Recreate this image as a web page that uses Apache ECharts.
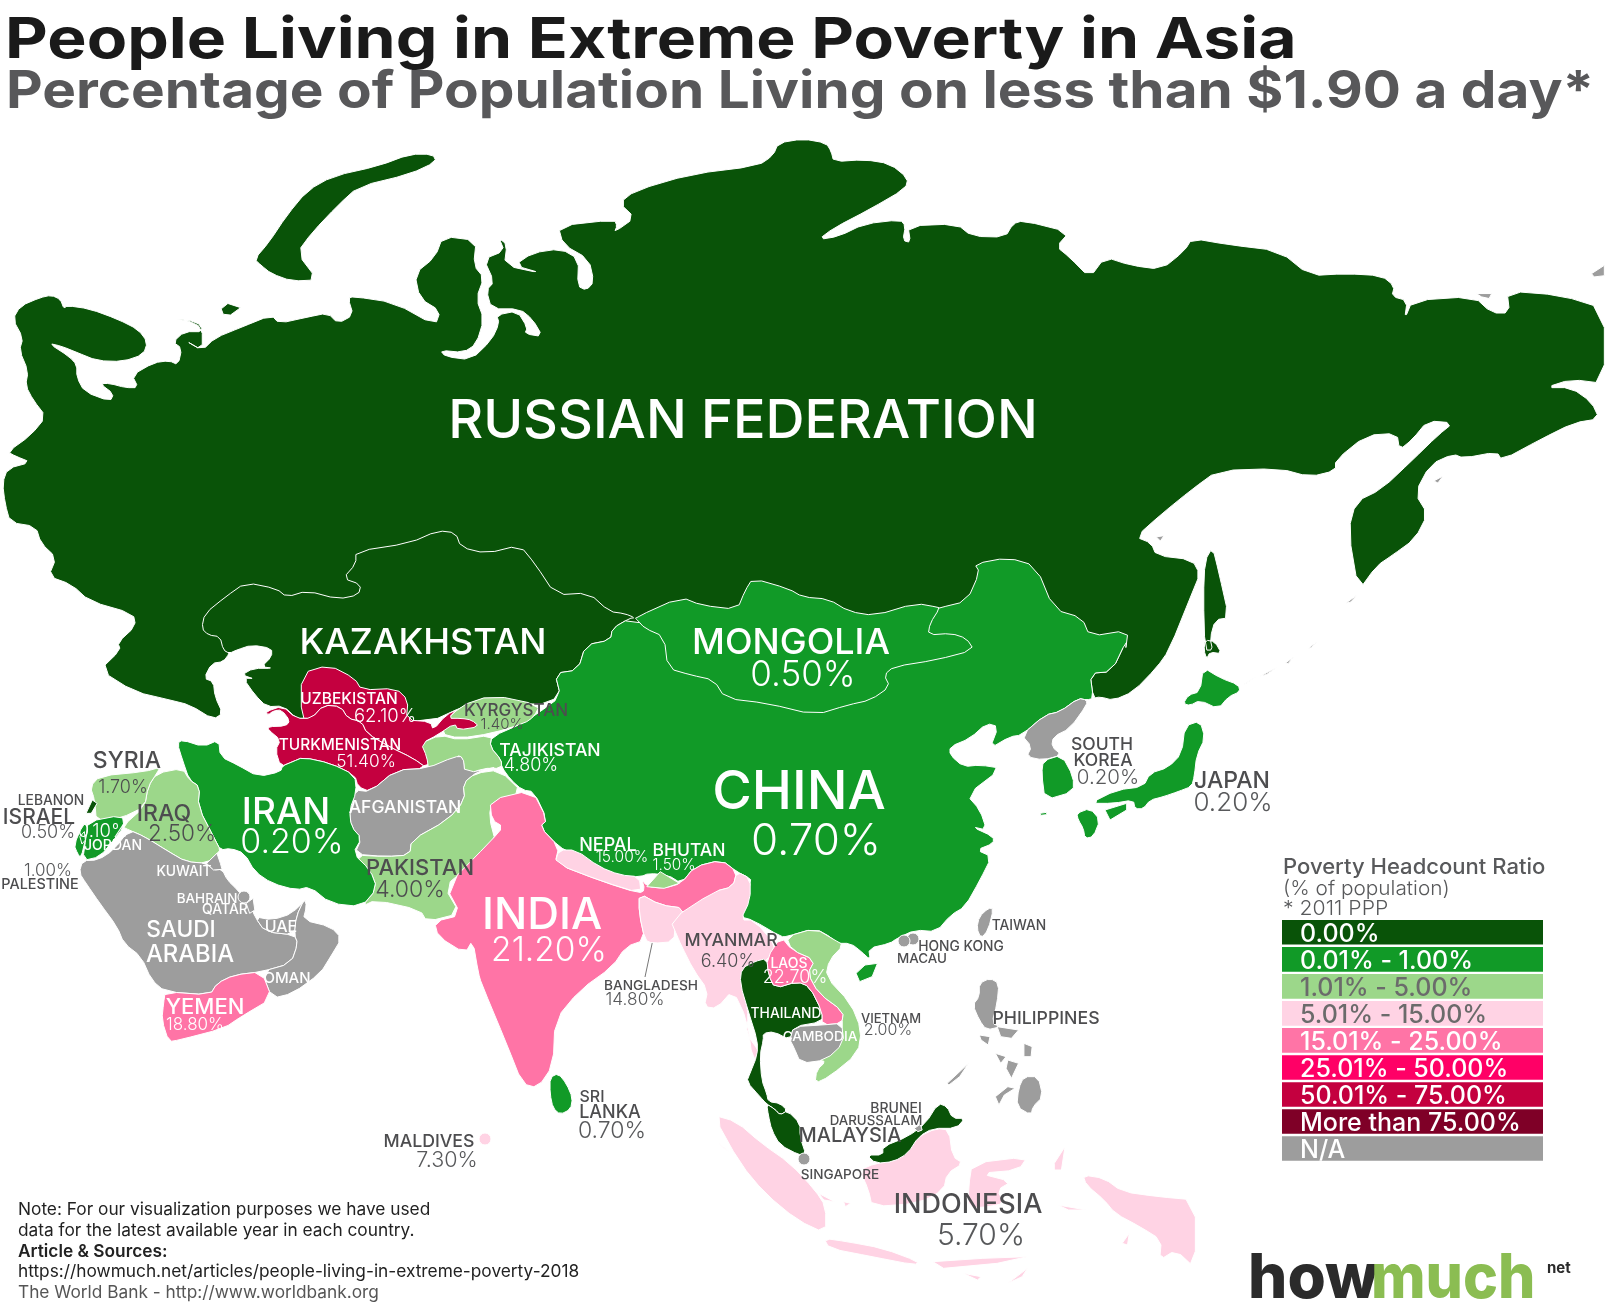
<!DOCTYPE html>
<html>
<head>
<meta charset="utf-8">
<title>People Living in Extreme Poverty in Asia</title>
<style>
html,body{margin:0;padding:0;background:#fff}
#chart{width:1606px;height:1307px}
</style>
<script src="https://cdn.jsdelivr.net/npm/echarts@6/dist/echarts.min.js"></script>
</head>
<body>
<div id="chart"></div>
<script>
// poverty headcount ratio
var countries = ['Russia','Kazakhstan','Lebanon','Thailand','Malaysia','Malaysia Borneo','Jordan','Iran','Japan','South Korea','Israel','Mongolia','China','Sri Lanka','Palestine','Kyrgyzstan','Bhutan','Syria','Vietnam','Iraq','Pakistan','Tajikistan','Indonesia','Myanmar','Maldives','Bangladesh','Nepal','Yemen','India','Laos','Turkmenistan','Uzbekistan'];
var poverty = [0,0,0,0,0,0,0.1,0.2,0.2,0.2,0.5,0.5,0.7,0.7,1.0,1.4,1.5,1.7,2.0,2.5,4.0,4.8,5.7,6.4,7.3,14.8,15.0,18.8,21.2,22.7,51.4,62.1];
var binLabels = ['0.00%','0.01% - 1.00%','1.01% - 5.00%','5.01% - 15.00%','15.01% - 25.00%','25.01% - 50.00%','50.01% - 75.00%','More than 75.00%','N/A'];
var binTops = [0,1,5,15,25,50,75,100];
var binColors = ['#095308','#119A27','#9CD78A','#FFD3E4','#FF74A6','#FF0066','#C4003F','#7F0027','#9D9D9D'];
var binTextColors = ['#fff','#fff','#6b6b6b','#6b6b6b','#fff','#fff','#fff','#fff','#fff'];
var titleText = 'People Living in Extreme Poverty in Asia';
var subtitleText = 'Percentage of Population Living on less than $1.90 a day*';
var noteLines = ['Note: For our visualization purposes we have used','data for the latest available year in each country.','Article & Sources:','https://howmuch.net/articles/people-living-in-extreme-poverty-2018','The World Bank - http://www.worldbank.org'];

function crop(x0,y0,kx,ky){
  return function(){
    var out=[];
    for(var i=0;i<arguments.length;i+=2) out.push([x0+arguments[i]/kx,y0+arguments[i+1]/ky]);
    return out;
  };
}
var nw=crop(0,0,1.953,2.412), ne=crop(803,0,1.953,2.412), me=crop(0,650,2.904,3), si=crop(400,600,2.613,3),
    se=crop(640,880,2.8,3), jp=crop(1100,640,3,2.904), kr=crop(930,640,3,3), ov=crop(0,0,0.9763,0.9763),
    cz=crop(170,600,3,3), ml=crop(700,1040,3,3);

var shapes = {
  Other:[
    ne(1540,660,1565,640,1565,665,1545,668), ne(1315,708,1345,708,1340,720,1325,716),
    ne(1232,1160,1250,1148,1240,1165), ne(1060,1455,1082,1435,1070,1452), ne(690,1295,705,1292,698,1305),
    jp(430,130,470,105,440,125), jp(480,105,530,80,500,100), jp(555,68,580,50,565,68), jp(625,25,650,5,635,22)
  ],
  Russia:[
    nw(25,770,40,738,78,718,100,712,118,722,125,745,130,737,175,745,230,770,270,795,288,825,280,855,240,872,190,870,150,850,120,835,95,828,135,860,150,880,150,910,165,945,215,968,222,950,195,925,215,925,245,935,270,935,258,905,300,875,330,870,348,880,355,840,338,825,360,800,398,800,385,775,335,770,365,772,395,790,395,845,360,820,395,845,420,815,470,790,530,760,545,780,600,765,640,755,660,780,690,760,680,720,690,715,770,730,850,785,860,750,820,720,810,660,850,620,865,570,930,580,925,640,945,670,930,720,945,770,930,830,905,850,860,845,870,860,920,868,960,820,975,780,970,760,1010,750,1030,790,1025,805,1060,812,1040,770,1015,745,960,745,950,700,965,680,945,625,985,605,975,575,990,590,985,640,1060,660,1005,640,1040,610,1095,600,1130,625,1128,690,1145,700,1160,680,1150,625,1100,590,1090,545,1200,530,1205,545,1200,560,1240,525,1210,490,1240,460,1350,420,1480,400,1510,375,1520,345,1568,335)
    .concat(ne(45,345,55,365,60,390,120,385,170,395,205,430,200,455,130,505,60,550,30,578,70,570,120,540,190,530,200,545,195,580,210,585,205,545,300,540,330,570,395,572,410,540,430,532,520,560,495,595,520,620,560,670,590,620,640,640,700,650,745,605,760,575,830,590,930,605,990,665,1060,660,1130,665,1155,690,1150,715,1180,725,1175,770,1190,725,1310,715,1345,755,1380,755,1375,702,1480,712,1565,745,1565,925,1500,915,1450,935,1500,935,1540,970,1555,1010,1505,1020,1440,1060,1365,1110,1355,1090,1290,1105,1270,1095,1225,1120,1195,1190,1220,1240,1195,1300,1150,1340,1120,1365,1085,1425,1065,1280,1080,1210,1130,1180,1190,1110,1240,1050,1270,1020,1220,1015,1190,1060,1165,1085,1160,1045,1100,1050,1040,1110,1040,1135,990,1150,930,1130,810,1135,760,1180,700,1240,650,1295,680,1310,690,1340,760,1350,775,1385,760,1430,715,1568))
    .concat(jp(170,80,100,150,40,175,0,165))
    .concat(kr(490,175,480,100,545,95,590,0))
    .concat(si(1000,100,600,100,400,200))
    .concat(cz(200,100,178,160,160,185,125,190,102,235,130,245,135,290,158,340,130,358,60,315,0,300),me(390,125,290,60,350,0))
    .concat(nw(230,1550,265,1510,260,1480,175,1450,140,1410,95,1390,110,1345,80,1310,70,1270,20,1260,10,1215,5,1165,15,1130,60,1115,30,1100,15,1090,60,1050,90,1005,65,965,50,930,55,895,38,845,45,815)),
    nw(497,625,525,585,560,520,600,460,650,425,740,400,800,372,845,372,852,390,800,420,700,450,660,495,610,560,580,610,620,675,570,678,530,660,510,640),
    nw(432,745,445,732,470,742,450,760,436,758),
    ne(785,1352,800,1320,812,1380,832,1490,805,1495,795,1540,800,1568,785,1568,782,1440),
    jp(315,0,345,5,365,40,330,35,320,55,312,30)
  ],
  Kazakhstan:[
    nw(400,1480,440,1440,480,1405,540,1420,560,1440,600,1425,660,1445,700,1435,705,1410,670,1395,695,1360,695,1330,800,1310,855,1280,890,1285,900,1320,950,1335,1015,1315,1045,1360,1085,1435,1150,1430,1190,1475,1220,1480,1240,1490)
    .concat(si(600,55,555,85,550,120,485,135,465,210,405,220,420,290,350,320,240,285,155,325))
    .concat(me(1250,215,1100,205,875,205))
    .concat(cz(395,355,380,355,340,318,290,320,255,285,220,235,255,235,215,225,250,205,310,205,275,200,305,170,305,145,245,135,200,150,178,160,160,150,150,110,115,105,95,85))
  ],
  China:[
    si(600,55,1000,150,1408,24)
    .concat(ne(320,1450,345,1380,335,1360,400,1345,455,1365,490,1470,545,1490,560,1535,635,1520,630,1568))
    .concat(kr(590,0,545,95,480,100,490,175,470,180,445,175,390,215,345,225,275,285,240,290,180,325,205,260,170,250,120,295,60,320,60,345,100,380,150,375,215,385,110,465,150,510,170,570,125,560,190,590,190,610,140,630,185,650,150,720,105,800))
    .concat(se(870,105,830,155,770,150,720,175,700,190,640,205,645,240,620,215,590,190,545,190,540,175,490,145,410,170,395,170,315,120,280,110,300,60,310,0))
    .concat(si(915,835,880,815,840,780,770,800,735,850,700,825,650,820,630,830,575,830,500,790,450,760,415,740,365,680,385,660,350,575,320,570,290,540,265,500,265,480,235,440,240,410,320,370,360,340,420,290,405,220,465,210,485,135,550,120,555,85)),
    se(605,280,630,255,665,250,650,290,615,305)
  ],
  Mongolia:[
    nw(1240,1490,1330,1440,1370,1460,1440,1470,1455,1425,1470,1395,1540,1420,1568,1440)
    .concat(ne(50,1445,90,1475,140,1485,220,1455,265,1465))
    .concat(si(1410,25,1385,70,1380,105,1440,100,1480,115,1500,150,1400,180,1290,200,1265,225,1280,260,1230,300,1170,315,1085,345,960,310,850,295,820,240,760,225,700,205,690,110,640,85,620,60))
  ],
  Kyrgyzstan:[me(1225,275,1260,255,1330,170,1430,135,1568,165)
    .concat(si(350,350,325,370,240,400,155,415,105,400,130,345,155,325))],
  Uzbekistan:[me(875,205,875,70,955,45,1030,85,1050,120,1150,115,1185,150,1180,210,1250,215,1258,240,1295,195,1335,175,1300,205,1340,205,1370,210,1392,230,1330,240,1320,220,1270,255,1228,278,1250,310,1240,355,1200,325,1130,290,1065,250,1050,215,1010,205,990,170,940,165,905,205)],
  Turkmenistan:[me(815,350,800,300,815,270,780,240,778,230,830,228,842,212,818,180,795,182,778,195,772,185,820,168,860,205,905,205,940,165,990,170,1010,205,1050,215,1065,250,1130,290,1200,325,1240,355,1150,360,1075,425,1040,410,1030,375,960,340,880,322,850,335)],
  Tajikistan:[si(55,430,105,405,155,420,240,405,235,440,265,480,265,505,215,505,170,530,165,475,150,465,135,500,75,510,70,470)],
  Afghanistan:[me(1030,420,1075,425,1150,360,1240,355,1320,320,1345,320,1350,370,1450,350,1390,362,1345,400,1350,450,1300,510,1195,570,1190,615,1120,620,1030,612,1050,565,1020,530,1015,480)],
  Pakistan:[me(1030,615,1120,620,1190,615,1195,570,1300,510,1350,450,1345,400,1380,370,1450,360,1520,430,1430,450,1420,500,1440,580,1360,650,1290,710,1335,790,1240,815,1220,780,1090,750,1050,770,1095,715,1075,660)],
  Iran:[me(515,280,530,270,590,290,635,270,640,320,690,345,750,380,815,365,820,348,850,335,880,322,960,340,1030,375,1035,425,1015,480,1020,530,1050,565,1025,610,1075,660,1095,715,1050,770,960,760,900,710,860,720,790,700,740,665,710,610,670,595,640,600,625,570,575,470,580,410,550,390,530,330)],
  Iraq:[me(355,530,420,470,430,410,455,370,530,355,550,390,580,410,575,470,625,570,640,600,630,610,600,640,540,635,490,605,420,560,375,540)],
  Syria:[me(262,410,290,378,420,365,465,352,455,370,430,410,420,470,350,505,280,515,275,450)],
  Saudi:[me(230,668,240,632,285,630,330,600,375,540,420,560,490,605,540,635,600,640,620,660,645,658,660,690,690,720,730,770,740,800,770,845,855,855,865,880,845,940,760,965,680,975,630,1000,610,1035,480,1025,440,990,410,920,360,880,340,830,290,760,250,700)],
  Kuwait:[me(600,640,630,610,640,640,645,658,620,660)],
  Qatar:[me(715,760,735,745,740,780,725,790)],
  UAE:[me(740,800,770,845,855,855,860,800,885,745,850,790,790,810)],
  Oman:[me(885,745,890,770,880,810,960,830,992,865,960,920,930,970,850,1030,790,1045,760,965,845,940,865,880,855,855,860,800)],
  Yemen:[me(480,1025,610,1035,630,1000,680,975,760,965,790,1045,700,1100,650,1135,520,1170,490,1175,470,1110,475,1060)],
  Jordan:[me(255,515,355,495,360,530,330,570,290,620,240,632,250,560)],
  Israel:[me(215,585,240,525,255,520,250,560,235,625,225,610)],
  Palestine:[me(232,560,245,545,248,570,238,582)],
  Lebanon:[me(250,490,268,450,282,460,265,490)],
  India:[si(345,570,385,660,365,680,415,740,405,790,530,845,625,880,640,870,630,830,645,860,690,865,735,850,770,800,840,780,880,815,870,860,820,875,810,930,770,960,765,1000,740,965,720,970,745,925,680,915,625,880,625,940,640,1020,590,1040,555,1100,470,1170,405,1260)
    .concat(ov(540,1040,525,1062,510,1058,495,1020,470,960))
    .concat(si(205,1120,190,1020,170,1060,100,1010,90,965,160,945,120,860,240,720,270,680,240,660,235,600))],
  Nepal:[si(415,750,460,750,520,800,575,825,625,830,630,880,530,845,405,790)],
  Bhutan:[si(645,860,680,815,730,850,690,865)],
  Bangladesh:[si(625,880,680,915,745,925,720,970,715,1025,660,1030,640,1020,625,940)],
  Myanmar:[si(880,815,915,835,915,900,890,960,925,960,985,1040,965,1075,925,1100,890,1130,905,1210,910,1250,905,1300,935,1350)
    .concat(se(335,520,315,540,300,420,260,330,215,385,180,380,190,330,150,270,115,195,105,170,85,120))
    .concat(si(820,875,870,860))],
  'Sri Lanka':[ov(537,1052,545,1048,553,1058,559,1072,557,1083,547,1088,540,1082,537,1068)],
  Indonesia:[
    se(205,705,270,725,340,790,420,850,490,930,520,980,520,1060,440,1020,350,940,280,850),
    se(615,870,660,850,710,845,780,770,830,745,865,750,875,830,905,850,860,880,850,930,780,970,650,980,640,930),
    se(930,850,1085,830,1060,870,950,880,1040,905,1000,930,1020,970,975,980,920,985,920,920),
    se(515,1075,580,1085,680,1105,780,1145,770,1155,650,1130,530,1105),
    se(820,1145,960,1135,1085,1130,1000,1150,850,1165),
    se(1030,1210,1085,1165,1070,1190), se(905,1180,955,1190,945,1200),
    se(1240,885,1300,895,1350,935,1450,950,1555,960,1555,1165,1500,1110,1455,1140,1460,1080,1400,1040,1330,1000,1300,960,1250,915),
    se(1160,850,1190,800,1180,870,1160,870), se(1170,975,1250,990,1200,990), se(1350,1090,1370,1060,1365,1095),
    se(500,940,545,965,515,960), se(570,965,590,970,575,980), se(220,790,250,815,235,805)
  ],
  Thailand:[se(320,245,355,235,360,285,378,325,440,305,475,320,510,395,510,425,430,440,420,480,375,455,345,460)
    .concat(ml(190,0,180,45,185,120,200,160,205,185,240,190,262,212,240,225,225,208,200,192,180,170,140,125,150,100,172,45,172,0))
    .concat(se(305,400,280,310,285,265))],
  Laos:[se(395,170,425,210,490,240,470,280,500,340,570,395,565,430,510,435,510,395,475,320,440,305,378,325,360,285,355,235)],
  Vietnam:[se(410,170,490,145,545,180,570,195,530,240,520,290,590,370,620,450,610,520,530,590,490,610,495,570,520,545,500,540,570,490,565,430,570,395,500,340,470,280,490,240,425,210)],
  Cambodia:[se(430,440,510,435,565,430,570,490,520,540,450,550,430,500,420,480)],
  Malaysia:[ml(200,192,225,208,240,225,262,212,300,250,300,290,318,345,298,345,240,315,215,270,205,225)],
  'Malaysia Borneo':[se(635,825,680,825,680,800,750,770,800,730,835,670,860,680,875,715,910,715,885,745,820,745,780,770,750,820,710,845,660,850)],
  Brunei:[se(768,745,785,733,790,750,778,755)],
  Philippines:[
    se(950,310,980,295,1005,310,1000,370,985,430,1010,440,970,450,950,420,932,375,950,350),
    se(950,465,980,470,975,495,955,480), se(1000,440,1060,450,1040,475,1010,470), se(1075,490,1098,500,1095,530,1075,530),
    se(995,520,1025,530,1010,550), se(1030,540,1060,550,1040,595,1025,565),
    se(1075,590,1115,590,1128,650,1100,680,1095,705,1055,680,1060,625), se(995,650,1030,620,1050,625,1020,645,1005,675),
    se(860,610,920,550,895,590,865,615)
  ],
  Taiwan:[se(975,85,990,85,975,150,955,175,943,145,950,110)],
  'North Korea':[kr(470,180,445,175,390,215,345,225,275,285,305,320,290,350,340,360,395,345,365,320,370,290,420,265,470,195)],
  'South Korea':[kr(340,362,395,345,430,410,430,455,345,480,335,400), kr(330,520,350,517,350,524,332,526)],
  Japan:[
    jp(310,80,360,110,415,130,420,150,385,165,355,200,300,175,270,190,250,185,265,160,300,150),
    jp(255,250,300,235,315,285,290,335,283,395,275,425,235,440,190,455,150,465,130,490,105,490).concat(kr(610,480,550,490,480,490,560,450,640,440,660,400),jp(205,370,245,330)),
    kr(525,510,590,490,590,510,540,540),
    kr(440,520,480,505,510,540,490,590,465,595,460,565,445,540)
  ]
};

// one pass of corner cutting so the traced coast is not all straight cuts
function soften(r){
  if(r.length<6) return r;
  var out=[];
  r.forEach(function(p,i){
    var q=r[(i+1)%r.length];
    out.push([p[0]*0.75+q[0]*0.25,p[1]*0.75+q[1]*0.25],[p[0]*0.25+q[0]*0.75,p[1]*0.25+q[1]*0.75]);
  });
  return out;
}
var features = Object.keys(shapes).map(function(name){
  return {type:'Feature',properties:{name:name},geometry:{type:'MultiPolygon',coordinates:shapes[name].map(function(r){
    var s=soften(r);
    return [s.concat([s[0]])];
  })}};
});
echarts.registerMap('asia',{type:'FeatureCollection',features:features});

function pct(name){ return poverty[countries.indexOf(name)].toFixed(2)+'%'; }

var W='#fff', D='#4d4d4f', G='#58595b';
// text, centre x, centre y, size, weight, colour
var mapLabels = [
  ['RUSSIAN FEDERATION',743,418,54,500,W],['KAZAKHSTAN',423,640,36,500,W],
  ['MONGOLIA',791,640,36,500,W],[pct('Mongolia'),803,673,35,300,W],
  ['CHINA',799,789,54,500,W],[pct('China'),816,839,44,300,W],
  ['IRAN',286,810,37,500,W],[pct('Iran'),292,840,34,300,W],
  ['INDIA',542,913,44,500,W],[pct('India'),549,948,33.5,300,W],
  ['PAKISTAN',420,866,22,500,D],[pct('Pakistan'),410,888,23,300,D],
  ['AFGANISTAN',405,806,17.5,500,W],['IRAQ',164,812,23,500,D],[pct('Iraq'),182,832,22.5,300,D],
  ['SYRIA',127,759,23,500,D],[pct('Syria'),123,786,18,300,D],
  ['LEBANON',51,799,13.8,500,D],['ISRAEL',39,816,21,500,D],[pct('Israel'),48,831,18,300,G],
  [pct('Jordan'),103,830,18.5,300,W],['JORDAN',113,844,14,500,W],
  [pct('Palestine'),48,869,17,300,G],['PALESTINE',40,883,14.4,500,D],
  ['KUWAIT',184,870,13.8,500,W],['BAHRAIN',207,897,13.5,500,W],['QATAR',225,908,14,500,W],
  ['SAUDI',181,928,22.7,500,W],['ARABIA',190,953,23.8,500,W],['UAE',281,925,16,500,W],['OMAN',287,977,15,500,W],
  ['YEMEN',205,1005,22,500,W],[pct('Yemen'),195,1023,17,300,W],
  ['UZBEKISTAN',349,698,15.5,500,W],[pct('Uzbekistan'),385,715,18.5,300,W],
  ['TURKMENISTAN',340,744,15.4,500,W],[pct('Turkmenistan'),366,760,17.3,300,W],
  ['KYRGYSTAN',516,709,17,500,D],[pct('Kyrgyzstan'),502,723,15,300,D],
  ['TAJIKISTAN',550,749,17.6,500,W],[pct('Tajikistan'),531,764,18,300,W],
  ['NEPAL',608,844,18,500,W],[pct('Nepal'),622,856,15.5,300,W],
  ['BHUTAN',689,849,17.5,500,W],[pct('Bhutan'),674,864,15.3,300,W],
  ['BANGLADESH',651,984,13.7,500,D],[pct('Bangladesh'),635,998,17.3,300,G],
  ['MYANMAR',731,939,17.7,500,D],[pct('Myanmar'),728,960,18,300,D],
  ['LAOS',789,962,14,500,W],[pct('Laos'),795,976,18,300,W],
  ['THAILAND',786,1012,13.8,500,W],['CAMBODIA',820,1035,13.7,500,W],
  ['VIETNAM',891,1017,13,500,D],[pct('Vietnam'),888,1028,16,300,G],
  ['SOUTH',1102,743,17.5,500,D],['KOREA',1103,759,17.5,500,D],[pct('South Korea'),1108,776,20.5,300,G],
  ['JAPAN',1232,779,23,500,D],[pct('Japan'),1233,801,26,300,G],
  ['TAIWAN',1019,924,13.8,500,D],['HONG KONG',961,945,13.8,500,D],['MACAU',922,957,13.4,500,D],
  ['PHILIPPINES',1046,1017,17.7,500,D],['BRUNEI',896,1107,14,500,D],['DARUSSALAM',876,1119,13.3,500,D],
  ['MALAYSIA',850,1134,20,500,D],['SINGAPORE',840,1173,13.6,500,D],
  ['SRI',592,1095,16,500,D],['LANKA',610,1111,18,500,D],[pct('Sri Lanka'),612,1129,23,300,G],
  ['MALDIVES',429,1140,17.7,500,D],[pct('Maldives'),447,1158,21.5,300,G],
  ['INDONESIA',968,1203,27,500,D],[pct('Indonesia'),981,1233,30,300,G]
];
// places too small to draw as a shape: x, y, colour index into binColors
var smallPlaces = [
  {name:'Hong Kong',value:[913,939],c:8},{name:'Macau',value:[904,941],c:8},{name:'Singapore',value:[804,1159],c:8},
  {name:'Bahrain',value:[244,897],c:8},{name:'Maldives',value:[485,1139],c:3}
];

var pieces = binTops.map(function(top,i){
  if(i===0) return {value:0,color:binColors[0]};
  return {gt:binTops[i-1],lte:top,color:binColors[i]};
});

// legend and footer are plain graphic elements, the bars hold their own label
var graphic = [
  {type:'text',x:5,y:41.5,scaleX:1.18,style:{text:titleText,font:'700 56px Inter',fill:'#1a1a1a',textVerticalAlign:'middle'}},
  {type:'text',x:6,y:92,scaleX:1.09,style:{text:subtitleText,font:'700 52px Inter',fill:'#58585a',textVerticalAlign:'middle'}},
  {type:'text',x:1283,y:868,scaleX:1.05,style:{text:'Poverty Headcount Ratio',font:'500 21px Inter',fill:'#58595b',textVerticalAlign:'middle'}},
  {type:'text',x:1283,y:889,scaleX:1.04,style:{text:'(% of population)',font:'300 20px Inter',fill:'#58595b',textVerticalAlign:'middle'}},
  {type:'text',x:1283,y:909,scaleX:1.06,style:{text:'* 2011 PPP',font:'300 20px Inter',fill:'#58595b',textVerticalAlign:'middle'}},
  {type:'line',shape:{x1:655.6,y1:927,x2:645,y2:977},style:{stroke:'#777',lineWidth:1}}
];
binLabels.forEach(function(label,i){
  graphic.push({type:'rect',shape:{x:1282,y:920+i*27.03,width:261,height:24.6},style:{fill:binColors[i]}});
  graphic.push({type:'text',x:1300,y:934+i*27.03,style:{text:label,font:'500 25px Inter',fill:binTextColors[i],textVerticalAlign:'middle'}});
});
noteLines.forEach(function(line,i){
  graphic.push({type:'text',x:18,y:[1210,1231,1252,1272,1293][i],style:{text:line,font:(i===2?'600':'400')+' 17.3px Inter',fill:i===4?'#555':'#222',textVerticalAlign:'middle'}});
});
graphic.push({type:'text',x:1248,y:1279,style:{text:'how',font:'800 62px Inter',fill:'#2b2b2b',textVerticalAlign:'middle'}});
graphic.push({type:'text',x:1371,y:1279,scaleX:0.95,style:{text:'much',font:'800 62px Inter',fill:'#8BBD52',textVerticalAlign:'middle'}});
graphic.push({type:'text',x:1547,y:1268,style:{text:'net',font:'700 15px Inter',fill:'#2b2b2b',textVerticalAlign:'middle'}});

var chart = echarts.init(document.getElementById('chart'));
chart.setOption({
  animation:false,
  backgroundColor:'#fff',
  visualMap:{show:false,type:'piecewise',seriesIndex:0,pieces:pieces},
  geo:{
    map:'asia',roam:false,silent:true,
    projection:{project:function(p){return p;},unproject:function(p){return p;}},
    boundingCoords:[[0,0],[1606,1307]],
    left:0,top:0,width:1606,height:1307,
    itemStyle:{areaColor:binColors[8],borderColor:'#fff',borderWidth:1},
    emphasis:{disabled:true},
    label:{show:false}
  },
  series:[
    {type:'map',geoIndex:0,silent:true,
     data:countries.map(function(c,i){return {name:c,value:poverty[i]};})},
    {type:'scatter',coordinateSystem:'geo',silent:true,symbolSize:12,z:5,itemStyle:{opacity:1},
     data:smallPlaces.map(function(p){return {name:p.name,value:p.value,itemStyle:{color:binColors[p.c],borderColor:'#fff',borderWidth:1,opacity:1}};})},
    {type:'scatter',coordinateSystem:'geo',silent:true,symbolSize:0,z:6,itemStyle:{opacity:1},
     data:mapLabels.map(function(l){
       return {name:l[0],value:[l[1],l[2]+1+l[3]*0.05],label:{show:true,position:'inside',formatter:l[0],fontFamily:'Inter',fontSize:l[3],fontWeight:l[4],color:l[5]}};
     }),
     labelLayout:{hideOverlap:false}}
  ],
  graphic:graphic
});
</script>
</body>
</html>
